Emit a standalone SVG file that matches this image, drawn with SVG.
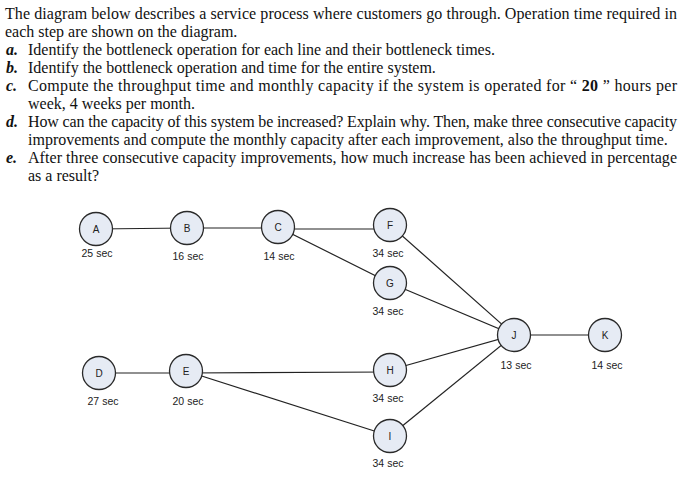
<svg xmlns="http://www.w3.org/2000/svg" width="694" height="478" viewBox="0 0 694 478">
<style>
.q{font-family:"Liberation Serif","Times New Roman",serif;font-size:16px;fill:#111}
.lt{font-weight:bold;font-style:italic}
.n circle{fill:#e6ebf4;stroke:#2a2a2a;stroke-width:1.3}
.n text{font-family:"Liberation Sans",Arial,sans-serif;font-size:10.5px;fill:#222;text-anchor:middle}
.n text.l{font-size:10px}
.e line{stroke:#222;stroke-width:1.2}
</style>
<rect width="694" height="478" fill="#fff"/>
<g id="question">
<text class="q" x="5" y="19" textLength="672" lengthAdjust="spacing">The diagram below describes a service process where customers go through. Operation time required in</text>
<text class="q" x="5" y="37">each step are shown on the diagram.</text>
<text class="q lt" x="6" y="55">a.</text>
<text class="q" x="28" y="55">Identify the bottleneck operation for each line and their bottleneck times.</text>
<text class="q lt" x="6" y="73">b.</text>
<text class="q" x="28" y="73">Identify the bottleneck operation and time for the entire system.</text>
<text class="q lt" x="6" y="91">c.</text>
<text class="q" x="28" y="91" textLength="649" lengthAdjust="spacing">Compute the throughput time and monthly capacity if the system is operated for “  <tspan font-weight="bold">20</tspan>  ” hours per</text>
<text class="q" x="28" y="109">week, 4 weeks per month.</text>
<text class="q lt" x="6" y="127">d.</text>
<text class="q" x="28" y="127" textLength="649" lengthAdjust="spacing">How can the capacity of this system be increased? Explain why. Then, make three consecutive capacity</text>
<text class="q" x="28" y="145">improvements and compute the monthly capacity after each improvement, also the throughput time.</text>
<text class="q lt" x="6" y="163">e.</text>
<text class="q" x="28" y="163" textLength="649" lengthAdjust="spacing">After three consecutive capacity improvements, how much increase has been achieved in percentage</text>
<text class="q" x="28" y="181">as a result?</text>
</g>
<g id="connectors" class="e">
<line x1="96" y1="229" x2="187" y2="228"/>
<line x1="187" y1="228" x2="278" y2="228"/>
<line x1="278" y1="229" x2="390" y2="229"/>
<line x1="278" y1="227" x2="390" y2="283"/>
<line x1="390" y1="225" x2="514" y2="335"/>
<line x1="390" y1="283" x2="514" y2="335"/>
<line x1="514" y1="335" x2="605" y2="335"/>
<line x1="99" y1="373" x2="186" y2="373"/>
<line x1="186" y1="373" x2="390" y2="372"/>
<line x1="186" y1="371" x2="390" y2="436"/>
<line x1="390" y1="370" x2="514" y2="335"/>
<line x1="390" y1="436" x2="514" y2="335"/>
</g>
<g id="A" class="n"><circle cx="96" cy="229" r="16.5"/><text class="l" x="96" y="232.5">A</text><text x="97" y="257">25 sec</text></g>
<g id="B" class="n"><circle cx="187" cy="228" r="16.5"/><text class="l" x="187" y="231.5">B</text><text x="188" y="260">16 sec</text></g>
<g id="C" class="n"><circle cx="278" cy="227" r="16.5"/><text class="l" x="278" y="230.5">C</text><text x="279" y="260">14 sec</text></g>
<g id="F" class="n"><circle cx="390" cy="225" r="16.5"/><text class="l" x="390" y="228.5">F</text><text x="388" y="257">34 sec</text></g>
<g id="G" class="n"><circle cx="390" cy="283" r="16.5"/><text class="l" x="390" y="286.5">G</text><text x="388" y="315">34 sec</text></g>
<g id="J" class="n"><circle cx="514" cy="335" r="16.5"/><text class="l" x="514" y="338.5">J</text><text x="516" y="369">13 sec</text></g>
<g id="K" class="n"><circle cx="605" cy="335" r="16.5"/><text class="l" x="605" y="338.5">K</text><text x="607" y="369">14 sec</text></g>
<g id="D" class="n"><circle cx="99" cy="373" r="16.5"/><text class="l" x="99" y="376.5">D</text><text x="103" y="405">27 sec</text></g>
<g id="E" class="n"><circle cx="186" cy="371" r="16.5"/><text class="l" x="186" y="374.5">E</text><text x="188" y="405">20 sec</text></g>
<g id="H" class="n"><circle cx="390" cy="370" r="16.5"/><text class="l" x="390" y="373.5">H</text><text x="388" y="402">34 sec</text></g>
<g id="I" class="n"><circle cx="390" cy="436" r="16.5"/><text class="l" x="390" y="439.5">I</text><text x="388" y="467">34 sec</text></g>
</svg>
